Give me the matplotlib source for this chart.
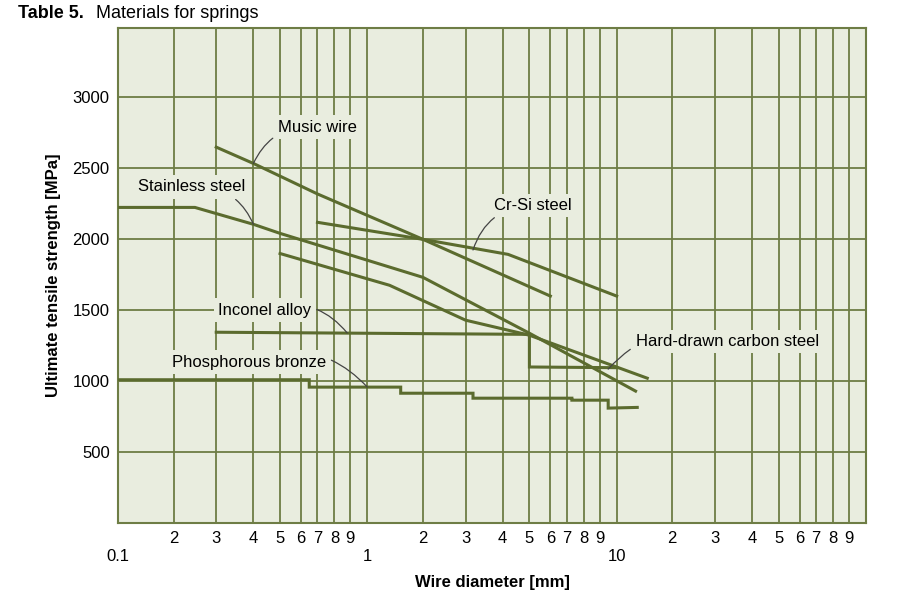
import matplotlib
matplotlib.use("Agg")
import matplotlib.pyplot as plt
import numpy as np

plt.rcParams["font.family"] = ["Liberation Sans", "DejaVu Sans"]

# data (diameter mm, strength MPa)
music_x = [0.3, 0.4, 0.7, 2.0, 6.0]
music_y = [2650, 2535, 2320, 2000, 1600]
stainless_x = [0.1, 0.25, 0.4, 0.5, 2.0, 5.0, 13.4]
stainless_y = [2225, 2225, 2106, 2042, 1732, 1338, 930]
crsi_x = [0.7, 2.0, 4.2, 10.0]
crsi_y = [2120, 2000, 1894, 1600]
hard_x = [0.5, 1.4, 3.0, 5.0, 15.5]
hard_y = [1900, 1676, 1430, 1324, 1021]
inconel_x = [0.3, 5.0, 5.0, 10.0]
inconel_y = [1345, 1330, 1100, 1095]
bronze_x = [0.1, 0.65, 0.65, 1.6, 1.6, 3.2, 3.2, 7.3, 7.3, 9.5, 9.5, 13.7]
bronze_y = [1010, 1010, 958, 958, 915, 915, 880, 880, 866, 866, 810, 815]

# the printed chart uses a non-standard "log-like" grid; positions inside a decade
mults = np.arange(1, 11)
fracs = np.array([0, .223, .394, .543, .65, .734, .8, .868, .932, 1.0])


def fwd(x):
    x = np.asarray(x, dtype=float)
    out = np.full(x.shape, np.nan)
    ok = x > 0
    lg = np.log10(x[ok])
    d = np.floor(lg + 1e-12)
    m = 10 ** (lg - d)
    out[ok] = d + np.interp(m, mults, fracs)
    return out


def inv(y):
    y = np.asarray(y, dtype=float)
    d = np.floor(y)
    return np.interp(y - d, fracs, mults) * 10 ** d


BG = "#e9eddf"
GRID = "#6e7d45"
LINE = "#5b6b2e"

fig = plt.figure(figsize=(8.98, 6.10), dpi=100)
ax = fig.add_axes([118 / 898, 87 / 610, 748 / 898, 495 / 610])
ax.set_facecolor(BG)
ax.set_xscale("function", functions=(fwd, inv))
ax.set_xlim(0.1, 100)
ax.set_ylim(0, 3490)

# grid
for dec in [0.1, 1, 10]:
    for k in range(1, 10):
        if dec * k > 0.1:
            ax.axvline(dec * k, color=GRID, lw=1.3, zorder=1)
for yv in range(500, 3500, 500):
    ax.axhline(yv, color=GRID, lw=1.3, zorder=1)
for s in ax.spines.values():
    s.set_color(GRID)
    s.set_linewidth(1.5)

for xs, ys in [(music_x, music_y), (stainless_x, stainless_y), (crsi_x, crsi_y),
               (hard_x, hard_y), (inconel_x, inconel_y), (bronze_x, bronze_y)]:
    ax.plot(xs, ys, color=LINE, lw=2.2, zorder=3, solid_joinstyle="miter")

# ticks
ticks, labels = [], []
for dec in [0.1, 1, 10]:
    for k in range(1, 10):
        ticks.append(dec * k)
        labels.append("\n" + f"{dec:g}" if k == 1 else str(k))
ax.set_xticks(ticks)
ax.set_xticklabels(labels, fontsize=12)
ax.set_yticks(range(500, 3500, 500))
ax.tick_params(length=0, pad=6, labelsize=12)
ax.set_xlabel("Wire diameter [mm]", fontsize=12, fontweight="bold", labelpad=8)
ax.set_ylabel("Ultimate tensile strength [MPa]", fontsize=12, fontweight="bold",
              labelpad=8)

# labels with leader lines
box = dict(boxstyle="square,pad=0.25", fc=BG, ec="none")
arrow = dict(arrowstyle="-", color="#444444", lw=0.9, shrinkA=1, shrinkB=0)
notes = [
    ("Music wire", (0.4, 2535), (0.214, 0.80), "left", "arc3,rad=0.35"),
    ("Stainless steel", (0.4, 2106), (0.099, 0.679), "center", "arc3,rad=-0.35"),
    ("Cr-Si steel", (3.2, 1925), (0.503, 0.642), "left", "arc3,rad=0.35"),
    ("Inconel alloy", (0.88, 1340), (0.134, 0.43), "left", "arc3,rad=-0.35"),
    ("Phosphorous bronze", (1.0, 958), (0.072, 0.325), "left", "arc3,rad=-0.35"),
    ("Hard-drawn carbon steel", (9.5, 1085), (0.692, 0.366), "left", "arc3,rad=0.35"),
]
for txt, xy, xyt, ha, cs in notes:
    ax.annotate(txt, xy=xy, xycoords="data", xytext=xyt, textcoords="axes fraction",
                ha=ha, va="center", fontsize=12, bbox=box, zorder=5,
                arrowprops=dict(arrow, connectionstyle=cs))

fig.text(18 / 898, 1 - 13 / 610, "Table 5.", fontsize=13, fontweight="bold",
         va="center", ha="left")
fig.text(96 / 898, 1 - 13 / 610, "Materials for springs", fontsize=13,
         va="center", ha="left")

fig.savefig("out.png", dpi=100, facecolor="white")
